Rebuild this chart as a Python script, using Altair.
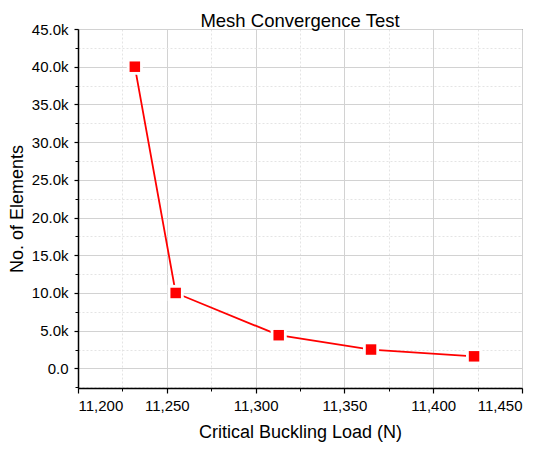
import pandas as pd
import altair as alt

# Mesh convergence data
load_n = [11232, 11255, 11313, 11365, 11423]
elements = [40000, 10000, 4400, 2500, 1600]

x_major = [11200, 11250, 11300, 11350, 11400, 11450]
x_minor = [11225, 11275, 11325, 11375, 11425]
y_major = [0, 5000, 10000, 15000, 20000, 25000, 30000, 35000, 40000, 45000]
y_minor = [-2500, 2500, 7500, 12500, 17500, 22500, 27500, 32500, 37500, 42500]

mesh = pd.DataFrame({"load": load_n, "elements": elements})

font = "Liberation Sans"
x_scale = alt.Scale(domain=[11200, 11450], nice=False, zero=False)
y_scale = alt.Scale(domain=[-2600, 45000], nice=False, zero=False)

# minor grid + minor ticks, no labels
minor = (alt.Chart(mesh)
    .mark_point(opacity=0)
    .encode(
        x=alt.X("load:Q", scale=x_scale,
                axis=alt.Axis(orient="bottom", values=x_minor, labels=False, title=None,
                              domain=False, tickSize=3, tickColor="black",
                              grid=True, gridColor="#e4e4e4", gridDash=[2, 2])),
        y=alt.Y("elements:Q", scale=y_scale,
                axis=alt.Axis(orient="left", values=y_minor, labels=False, title=None,
                              domain=False, tickSize=3, tickColor="black",
                              grid=True, gridColor="#e4e4e4", gridDash=[2, 2]))
    )
)

# major grid, labels and axis titles
line = (alt.Chart(mesh)
    .mark_line(color="#ff0000", strokeWidth=1.8)
    .encode(
        x=alt.X("load:Q", scale=x_scale,
                axis=alt.Axis(orient="bottom", values=x_major, format=",d",
                              title="Critical Buckling Load (N)",
                              domainColor="black", domainWidth=1.5,
                              tickSize=5, tickColor="black", tickWidth=1.2,
                              labelPadding=5, titlePadding=10,
                              grid=True, gridColor="#d2d2d2")),
        y=alt.Y("elements:Q", scale=y_scale,
                axis=alt.Axis(orient="left", values=y_major,
                              labelExpr="datum.value == 0 ? '0.0' : format(datum.value / 1000, '.1f') + 'k'",
                              title="No. of Elements",
                              domainColor="black", domainWidth=1.5,
                              tickSize=4, tickColor="black", tickWidth=1.2,
                              labelPadding=6, titlePadding=5,
                              grid=True, gridColor="#d2d2d2"))
    )
)

# white halo gives the gap between line and marker
halo = (alt.Chart(mesh)
    .mark_square(color="white", opacity=1, size=260)
    .encode(x=alt.X("load:Q", scale=x_scale, axis=None),
            y=alt.Y("elements:Q", scale=y_scale, axis=None))
)

markers = (alt.Chart(mesh)
    .mark_square(color="#ff0000", opacity=1, size=110)
    .encode(x=alt.X("load:Q", scale=x_scale, axis=None),
            y=alt.Y("elements:Q", scale=y_scale, axis=None))
)

chart = (alt.layer(minor, line, halo, markers)
    .resolve_axis(x="independent", y="independent")
    .properties(
        width=444, height=359,
        title=alt.TitleParams("Mesh Convergence Test", fontSize=18.5, font=font,
                              fontWeight="normal", color="black", offset=6, dy=14),
        autosize=alt.AutoSizeParams(type="none"),
        padding={"left": 70, "top": 21, "right": 20, "bottom": 60},
    )
    .configure_view(stroke="#333333", strokeWidth=1)
    .configure_axis(labelFont=font, titleFont=font, labelFontSize=15, titleFontSize=18,
                    labelColor="black", titleColor="black", titleFontWeight="normal")
)

chart.save("out.html", embed_options={"renderer": "svg", "actions": False})
